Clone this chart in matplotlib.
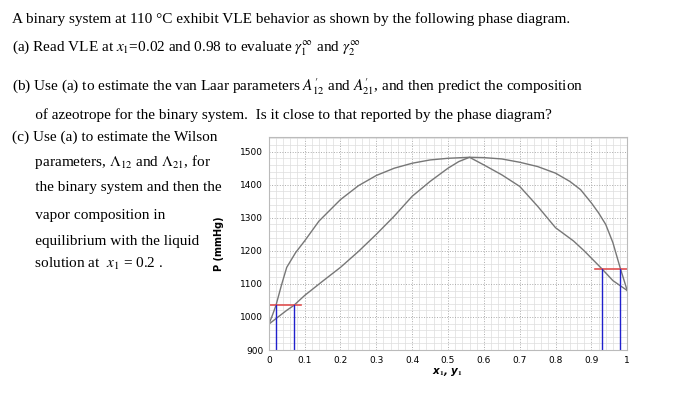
import matplotlib
matplotlib.use('Agg')
import matplotlib.pyplot as plt

plt.rcParams['mathtext.fontset'] = 'stix'

# bubble curve P-x (upper) and dew curve P-y (lower)
x_bub = [0, 0.01, 0.02, 0.035, 0.05, 0.075, 0.1, 0.14, 0.2, 0.25, 0.3, 0.35, 0.4, 0.45, 0.5, 0.56,
         0.6, 0.65, 0.7, 0.75, 0.8, 0.84, 0.87, 0.9, 0.92, 0.94, 0.96, 0.98, 1.0]
p_bub = [978, 1005, 1035, 1095, 1150, 1195, 1230, 1290, 1355, 1397, 1428, 1450, 1465, 1475, 1480, 1483,
         1482, 1478, 1468, 1455, 1435, 1410, 1385, 1345, 1315, 1280, 1225, 1150, 1080]
y_dew = [0, 0.02, 0.05, 0.07, 0.1, 0.15, 0.2, 0.25, 0.3, 0.35, 0.4, 0.45, 0.5, 0.53, 0.56,
         0.6, 0.65, 0.7, 0.75, 0.8, 0.85, 0.88, 0.93, 0.96, 1.0]
p_dew = [978, 995, 1020, 1035, 1065, 1108, 1150, 1198, 1250, 1305, 1365, 1410, 1450, 1470, 1483,
         1460, 1430, 1395, 1335, 1270, 1230, 1200, 1145, 1110, 1080]

# construction lines
red_p = [1035, 1145]
red_x = [(0, 0.09), (0.91, 1.0)]
blue_x = [0.02, 0.07, 0.93, 0.98]
blue_top = [1035, 1035, 1145, 1145]

fig = plt.figure(figsize=(7, 4), dpi=100)
ax = fig.add_axes([0.384, 0.125, 0.512, 0.533])

ax.set_xlim(0, 1)
ax.set_ylim(900, 1545)
ax.set_xticks([i / 10 for i in range(11)])
ax.set_xticklabels(['0'] + ['%.1f' % (i / 10) for i in range(1, 10)] + ['1'])
ax.set_yticks(range(900, 1501, 100))
ax.set_xticks([i / 50 for i in range(51)], minor=True)
ax.set_yticks(range(900, 1541, 20), minor=True)
ax.grid(which='major', color='#aaaaaa', linewidth=0.7, linestyle=':')
ax.grid(which='minor', color='#dddddd', linewidth=0.5)
ax.tick_params(which='both', length=0, labelsize=6.5, pad=4)
for s in ax.spines.values():
    s.set_color('#bbbbbb')

ax.plot(x_bub, p_bub, color='#777777', linewidth=1)
ax.plot(y_dew, p_dew, color='#777777', linewidth=1)
for p, (a, b) in zip(red_p, red_x):
    ax.plot([a, b], [p, p], color='#e05050', linewidth=1.2)
for xv, top in zip(blue_x, blue_top):
    ax.plot([xv, xv], [900, top], color='#2020cc', linewidth=1)

ax.set_ylabel('P (mmHg)', fontsize=7, fontweight='bold', labelpad=12)
ax.set_xlabel('x$_\\mathbf{1}$, y$_\\mathbf{1}$', fontsize=7.5, fontweight='bold', style='italic', labelpad=1)

lines = [
    (19, 'A binary system at 110 \u00b0C exhibit VLE behavior as shown by the following phase diagram.'),
    (48, '(a) Read VLE at $x_1$=0.02 and 0.98 to evaluate $\\gamma_1^\\infty$ and $\\gamma_2^\\infty$'),
    (87, "(b) Use (a) to estimate the van Laar parameters $A_{12}^{\\prime}$ and $A_{21}^{\\prime}$, and then predict the composition"),
    (115, '      of azeotrope for the binary system.  Is it close to that reported by the phase diagram?'),
    (137, '(c) Use (a) to estimate the Wilson'),
    (162, '      parameters, $\\Lambda_{12}$ and $\\Lambda_{21}$, for'),
    (188, '      the binary system and then the'),
    (216, '      vapor composition in'),
    (242, '      equilibrium with the liquid'),
    (264, '      solution at  $x_1$ = 0.2 .'),
]
for ypx, t in lines:
    fig.text(12 / 700, 1 - ypx / 400, t, fontsize=11, family='Liberation Serif', va='center')

fig.savefig('out.png', dpi=100)
